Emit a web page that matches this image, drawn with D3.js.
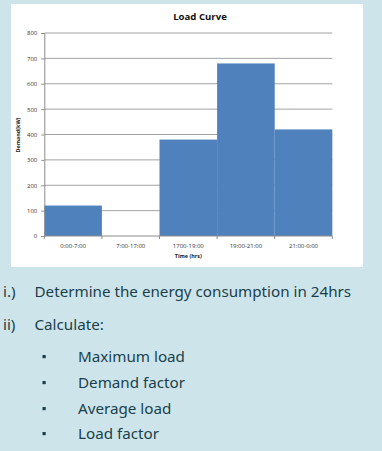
<!DOCTYPE html>
<html>
<head>
<meta charset="utf-8">
<script src="https://cdn.jsdelivr.net/npm/d3@7"></script>
<style>
  body { margin: 0; background: #cde5ea; }
  svg { display: block; }
</style>
</head>
<body>
<div id="plot"></div>
<script>
// chart data
var periods = ["0:00-7:00", "7:00-17:00", "1700-19:00", "19:00-21:00", "21:00-0:00"];
var demand = [120, 0, 380, 680, 420];
var yTicks = [0, 100, 200, 300, 400, 500, 600, 700, 800];

// questions below the chart
var questions = [
    { num: "i.)", text: "Determine the energy consumption in 24hrs" },
    { num: "ii)", text: "Calculate:" }
];
var bullets = ["Maximum load", "Demand factor", "Average load", "Load factor"];

var svgWidth = 382, svgHeight = 451;

var svg = d3.select("#plot")
    .append("svg")
    .attr("width", svgWidth)
    .attr("height", svgHeight);

// white chart panel
svg.append("rect")
    .attr("x", 11).attr("y", 4)
    .attr("width", 352).attr("height", 263)
    .attr("fill", "#ffffff");

var margin = { top: 33, left: 44.3 };
var width = 288, height = 203;

var chartGroup = svg.append("g")
    .attr("transform", `translate(${margin.left}, ${margin.top})`);

var xScale = d3.scaleBand()
    .domain(periods)
    .range([0, width])
    .padding(0);

var yScale = d3.scaleLinear()
    .domain([0, 800])
    .range([height, 0]);

// gridlines
chartGroup.append("g")
    .selectAll("line")
    .data(yTicks.slice(1))
    .enter()
    .append("line")
    .attr("x1", 0).attr("x2", width)
    .attr("y1", d => yScale(d)).attr("y2", d => yScale(d))
    .attr("stroke", "#8c8c8c")
    .attr("stroke-width", 0.8);

// bars
chartGroup.selectAll("rect.bar")
    .data(demand)
    .enter()
    .append("rect")
    .attr("class", "bar")
    .attr("x", (d, i) => xScale(periods[i]))
    .attr("y", d => yScale(d))
    .attr("width", xScale.bandwidth())
    .attr("height", d => height - yScale(d))
    .attr("fill", "#4f81bd");

// axes
var leftAxis = d3.axisLeft(yScale).tickValues(yTicks).tickSize(3).tickPadding(4);
var bottomAxis = d3.axisBottom(xScale).tickSize(0).tickPadding(8);

var yAxisG = chartGroup.append("g").call(leftAxis);
var xAxisG = chartGroup.append("g")
    .attr("transform", `translate(0, ${height})`)
    .call(bottomAxis);

[yAxisG, xAxisG].forEach(g => {
    g.select(".domain").attr("stroke", "#8c8c8c");
    g.selectAll(".tick line").attr("stroke", "#8c8c8c");
    g.selectAll("text")
        .attr("font-family", "'Open Sans', sans-serif")
        .attr("font-size", "6px")
        .attr("fill", "#333");
});
xAxisG.select(".domain").attr("d", `M0,0H${width}`);

// tick marks between categories
xAxisG.append("g")
    .selectAll("line")
    .data(d3.range(periods.length + 1))
    .enter()
    .append("line")
    .attr("x1", i => i * xScale.step()).attr("x2", i => i * xScale.step())
    .attr("y1", 0).attr("y2", 3)
    .attr("stroke", "#8c8c8c");

// title
svg.append("text")
    .attr("x", 200).attr("y", 20)
    .attr("text-anchor", "middle")
    .attr("font-family", "'Open Sans', sans-serif")
    .attr("font-weight", "bold")
    .attr("font-size", "9.6px")
    .attr("fill", "#111")
    .text("Load Curve");

// x axis title
svg.append("text")
    .attr("x", margin.left + width / 2).attr("y", 258)
    .attr("text-anchor", "middle")
    .attr("font-family", "'Open Sans', sans-serif")
    .attr("font-weight", "bold")
    .attr("font-size", "5.4px")
    .attr("fill", "#222")
    .text("Time (hrs)");

// y axis title
svg.append("text")
    .attr("transform", "rotate(-90)")
    .attr("x", -135).attr("y", 20)
    .attr("text-anchor", "middle")
    .attr("font-family", "'Open Sans', sans-serif")
    .attr("font-weight", "bold")
    .attr("font-size", "5.4px")
    .attr("fill", "#222")
    .text("Demand(kW)");

// question text
var textColor = "#1a3f4c";
var qBase = [297, 330];
questions.forEach((q, i) => {
    svg.append("text")
        .attr("x", 3).attr("y", qBase[i])
        .attr("font-family", "'Noto Sans', sans-serif")
        .attr("font-size", "15.2px")
        .attr("fill", textColor)
        .text(q.num);
    svg.append("text")
        .attr("x", 34.5).attr("y", qBase[i])
        .attr("font-family", "'Noto Sans', sans-serif")
        .attr("font-size", "15.2px")
        .attr("fill", textColor)
        .text(q.text);
});

var bBase = [362, 388, 414, 439];
bullets.forEach((b, i) => {
    svg.append("rect")
        .attr("x", 42.5).attr("y", bBase[i] - 7)
        .attr("width", 3.2).attr("height", 3.2)
        .attr("fill", textColor);
    svg.append("text")
        .attr("x", 78).attr("y", bBase[i])
        .attr("font-family", "'Noto Sans', sans-serif")
        .attr("font-size", "15.2px")
        .attr("fill", textColor)
        .text(b);
});
</script>
</body>
</html>
